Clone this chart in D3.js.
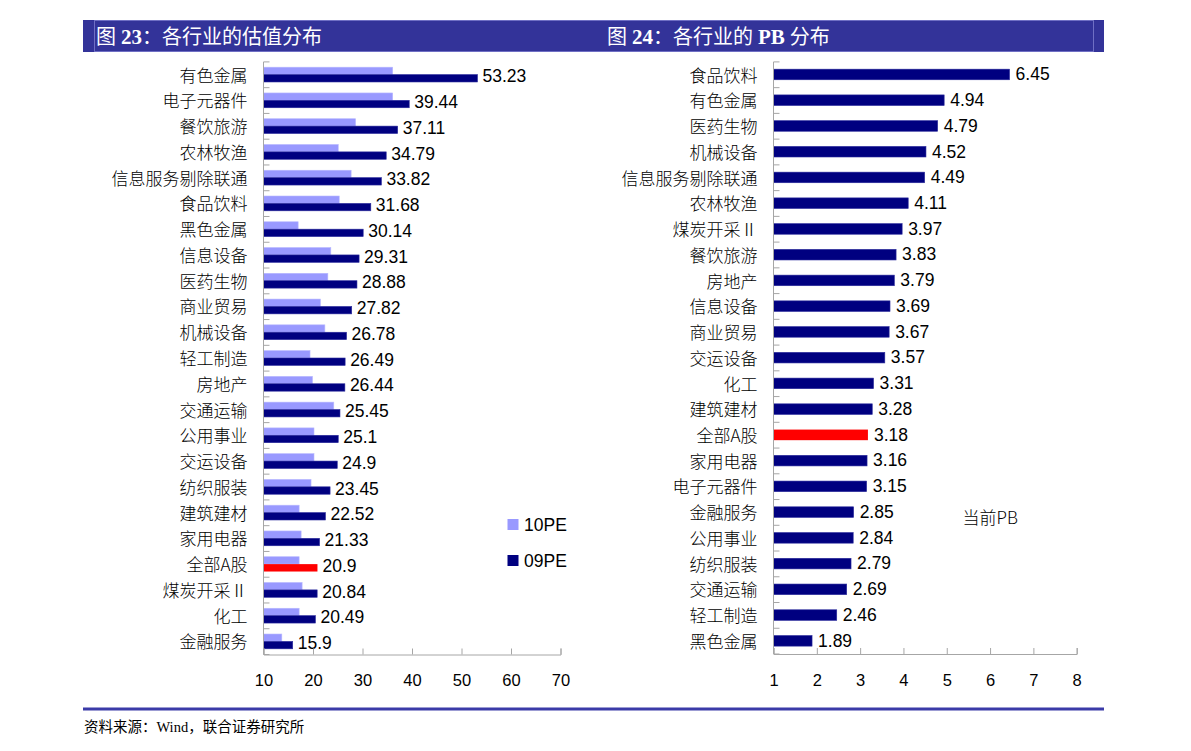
<!DOCTYPE html>
<html><head><meta charset="utf-8">
<script src="https://cdn.jsdelivr.net/npm/d3@7/dist/d3.min.js"></script>
<style>
html,body{margin:0;padding:0;background:#fff;}
svg{display:block;}
</style></head>
<body>
<svg id="chart" width="1191" height="751"></svg>
<script>
// ---------- data ----------
const peCategories = ["有色金属","电子元器件","餐饮旅游","农林牧渔","信息服务剔除联通","食品饮料","黑色金属","信息设备","医药生物","商业贸易","机械设备","轻工制造","房地产","交通运输","公用事业","交运设备","纺织服装","建筑建材","家用电器","全部A股","煤炭开采Ⅱ","化工","金融服务"];
const pe09 = [53.23,39.44,37.11,34.79,33.82,31.68,30.14,29.31,28.88,27.82,26.78,26.49,26.44,25.45,25.1,24.9,23.45,22.52,21.33,20.9,20.84,20.49,15.9];
const pe10 = [36.1,36.1,28.6,25.1,27.7,25.3,17.0,23.6,23.0,21.5,22.4,19.4,19.9,24.2,20.2,20.2,19.6,17.2,17.6,17.2,17.8,17.2,13.7];
const peTicks = [10,20,30,40,50,60,70];
const peSeriesNames = ["10PE","09PE"];

const pbCategories = ["食品饮料","有色金属","医药生物","机械设备","信息服务剔除联通","农林牧渔","煤炭开采Ⅱ","餐饮旅游","房地产","信息设备","商业贸易","交运设备","化工","建筑建材","全部A股","家用电器","电子元器件","金融服务","公用事业","纺织服装","交通运输","轻工制造","黑色金属"];
const pbValues = [6.45,4.94,4.79,4.52,4.49,4.11,3.97,3.83,3.79,3.69,3.67,3.57,3.31,3.28,3.18,3.16,3.15,2.85,2.84,2.79,2.69,2.46,1.89];
const pbTicks = [1,2,3,4,5,6,7,8];
const pbSeriesName = "当前PB";

const titleLeftParts = [["图 ",false],["23",true],["：各行业的估值分布",false]];
const titleRightParts = [["图 ",false],["24",true],["：各行业的 ",false],["PB",true],[" 分布",false]];
const sourceText = "资料来源：Wind，联合证券研究所";
const highlight = "全部A股";

// ---------- styles ----------
const C_LIGHT = "#9999ff", C_DARK = "#000080", C_RED = "#ff0000", C_BANNER = "#333399";
const AXIS = "#a6a6a6";
const CJK = "'Noto Sans CJK SC','Noto Sans',sans-serif";
const NUM = "'Liberation Sans',Arial,sans-serif";
const SERIF = "'Liberation Serif','Times New Roman','Noto Sans CJK SC',serif";

const svg = d3.select("#chart");

// ---------- banner ----------
svg.append("rect").attr("x",83).attr("y",20).attr("width",1021).attr("height",32).attr("fill",C_BANNER);
svg.append("rect").attr("x",94.5).attr("y",20.5).attr("width",999).attr("height",31)
  .attr("fill","none").attr("stroke","#6f6fc4").attr("stroke-width",1);
function title(x, parts){
  const t = svg.append("text").attr("x",x).attr("y",37).attr("dominant-baseline","central")
    .attr("fill","#fff").attr("font-family",SERIF).attr("font-size",20);
  t.selectAll("tspan").data(parts).join("tspan")
    .attr("font-weight",d=>d[1]?"bold":"normal").attr("font-size",d=>d[1]?21:20)
    .attr("xml:space","preserve").text(d=>d[0]);
}
title(96, titleLeftParts);
title(607, titleRightParts);

// ---------- footer ----------
svg.append("rect").attr("x",83).attr("y",707.5).attr("width",1021).attr("height",3).attr("fill","#3b3ba8");
svg.append("text").attr("x",84).attr("y",727).attr("dominant-baseline","central")
  .attr("fill","#000").attr("font-family",SERIF).attr("font-size",14.5).text(sourceText);

// ---------- helper for category axis ----------
function catAxis(g, y, x0, cats) {
  const ax = d3.axisLeft(y).tickSize(0).tickPadding(16);
  const ga = g.append("g").attr("transform",`translate(${x0},0)`).call(ax);
  ga.select(".domain").remove();
  ga.selectAll("text").attr("font-family",CJK).attr("font-size",17).attr("fill","#000")
    .attr("dy","0.4em").attr("font-weight",300);
  const bounds = cats.map(c => y(c)).concat([y(cats[cats.length-1]) + y.step()]);
  g.append("g").selectAll("line").data(bounds).join("line")
    .attr("x1",x0).attr("x2",x0+6).attr("y1",d=>d).attr("y2",d=>d)
    .attr("stroke",AXIS).attr("stroke-width",1);
}
function valAxis(g, x, yAxis, ticks) {
  const ax = d3.axisBottom(x).tickValues(ticks).tickSize(-6).tickPadding(20).tickFormat(d3.format("d"));
  const ga = g.append("g").attr("transform",`translate(0,${yAxis})`).call(ax);
  ga.select(".domain").attr("stroke",AXIS);
  ga.selectAll(".tick line").attr("stroke",AXIS);
  ga.selectAll("text").attr("font-family",NUM).attr("font-size",16.5).attr("fill","#000");
}

// ---------- left chart (PE) ----------
const gL = svg.append("g");
const xL = d3.scaleLinear().domain([10,70]).range([263.5,560.5]);
const yL = d3.scaleBand().domain(peCategories).range([61.9,654.5]).paddingInner(0).paddingOuter(0);
const peRows = peCategories.map((c,i)=>({c, v09:pe09[i], v10:pe10[i]}));
const ctr = d => yL(d.c) + yL.bandwidth()/2;

gL.append("g").selectAll("rect").data(peRows).join("rect")
  .attr("x",xL(10)).attr("y",d=>ctr(d)-7.6).attr("height",7.4)
  .attr("width",d=>xL(d.v10)-xL(10)).attr("fill",C_LIGHT).attr("stroke","#b8b8ff").attr("stroke-width",0.6);
gL.append("g").selectAll("rect").data(peRows).join("rect")
  .attr("x",xL(10)).attr("y",d=>ctr(d)-0.2).attr("height",7.4)
  .attr("width",d=>xL(d.v09)-xL(10)).attr("fill",d=>d.c===highlight?C_RED:C_DARK)
  .attr("stroke",d=>d.c===highlight?"none":"#2b2b9c").attr("stroke-width",0.6);
gL.append("g").selectAll("text").data(peRows).join("text")
  .attr("x",d=>xL(d.v09)+5).attr("y",d=>ctr(d)+1.5).attr("dominant-baseline","central")
  .attr("font-family",NUM).attr("font-size",17.5).attr("fill","#000").text(d=>d.v09);

gL.append("line").attr("x1",xL(10)).attr("x2",xL(10)).attr("y1",61.9).attr("y2",654.5).attr("stroke",AXIS);
catAxis(gL, yL, xL(10), peCategories);
valAxis(gL, xL, 654.5, peTicks);

// legend
const legY = [524.5, 560.5];
const legC = [C_LIGHT, C_DARK];
peSeriesNames.forEach((n,i)=>{
  gL.append("rect").attr("x",507.5).attr("y",legY[i]-5.5).attr("width",11).attr("height",11).attr("fill",legC[i]);
  gL.append("text").attr("x",524).attr("y",legY[i]).attr("dominant-baseline","central")
    .attr("font-family",NUM).attr("font-size",17.5).attr("fill","#000").text(n);
});

// ---------- right chart (PB) ----------
const gR = svg.append("g");
const xR = d3.scaleLinear().domain([1,8]).range([773.5,1076.7]);
const yR = d3.scaleBand().domain(pbCategories).range([61.9,654]).paddingInner(0).paddingOuter(0);
const pbRows = pbCategories.map((c,i)=>({c, v:pbValues[i]}));
const ctrR = d => yR(d.c) + yR.bandwidth()/2;

gR.append("g").selectAll("rect").data(pbRows).join("rect")
  .attr("x",xR(1)).attr("y",d=>ctrR(d)-5.6).attr("height",10.6)
  .attr("width",d=>xR(d.v)-xR(1)).attr("fill",d=>d.c===highlight?C_RED:C_DARK)
  .attr("stroke",d=>d.c===highlight?"none":"#2b2b9c").attr("stroke-width",0.6);
gR.append("g").selectAll("text").data(pbRows).join("text")
  .attr("x",d=>xR(d.v)+6).attr("y",d=>ctrR(d)-0.5).attr("dominant-baseline","central")
  .attr("font-family",NUM).attr("font-size",17.5).attr("fill","#000").text(d=>d.v);

gR.append("line").attr("x1",xR(1)).attr("x2",xR(1)).attr("y1",61.9).attr("y2",654).attr("stroke",AXIS);
catAxis(gR, yR, xR(1), pbCategories);
valAxis(gR, xR, 654, pbTicks);

gR.append("text").attr("x",962.5).attr("y",516).attr("dominant-baseline","central")
  .attr("font-family",CJK).attr("font-size",17).attr("font-weight",300).attr("fill","#000").text(pbSeriesName);
</script>
</body></html>
